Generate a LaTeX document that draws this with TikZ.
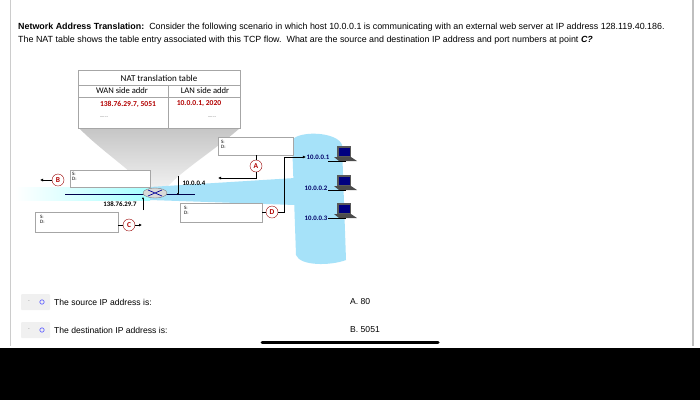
\documentclass[tikz,border=0pt]{standalone}
\usepackage{fontspec}
\setmainfont{Liberation Sans}
\newfontfamily\carl{Carlito}
\usetikzlibrary{arrows.meta,shapes.geometric}
\tikzset{
 x=1pt,y=-1pt,
 pbox/.style={draw=gray!70,line width=0.4pt,fill=white,inner sep=0pt},
 lbl/.style={circle,draw=red!60!black,fill=white,text=red!70!black,inner sep=0.6pt,minimum size=12pt,font=\carl\fontsize{7.5}{8}\selectfont\bfseries},
 conn/.style={line width=0.9pt,black},
 arr/.style={conn,-{Latex[length=3pt,width=3pt]}},
 sd/.style={font=\carl\fontsize{5}{5.5}\selectfont,align=left,inner sep=0pt,anchor=north west},
 ip/.style={font=\carl\fontsize{6.8}{7}\selectfont\bfseries,text=blue!40!black,inner sep=0.5pt},
 q/.style={font=\fontsize{8.6}{9}\selectfont,anchor=west,inner sep=0pt},
}
\begin{document}
\begin{tikzpicture}
\useasboundingbox (0,0) rectangle (700,400);
\fill[white] (0,0) rectangle (700,400);
\draw[gray!40,line width=1pt] (10,0) -- (10,346);
\draw[gray!50,line width=1.5pt] (693,0) -- (693,346);
\node[q,font=\fontsize{8.9}{9}\selectfont] (t1) at (18,27) {\textbf{Network Address Translation:}\ \ Consider the following scenario in which host 10.0.0.1 is communicating with an external web server at IP address 128.119.40.186.};
\node[q,font=\fontsize{8.9}{9}\selectfont] (t2) at (18,40) {The NAT table shows the table entry associated with this TCP flow.\ \ What are the source and destination IP address and port numbers at point \textbf{\textit{C?}}};
% funnel
\shade[top color=gray!45,bottom color=gray!10] (79,128) -- (240,128) .. controls (215,150) and (175,175) .. (165,190) -- (148,190) .. controls (138,175) and (100,150) .. (79,128) -- cycle;
% blue regions
\shade[left color=white,right color=cyan!35] (15,187) rectangle (150,200);
\fill[cyan!35] (150,187) -- (295,178) -- (295,205) -- (150,200) -- cycle;
\fill[cyan!35] (292,140) .. controls (300,130) and (338,132) .. (342,145) -- (346,260) .. controls (330,266) and (300,266) .. (296,255) -- (292,140) -- cycle;
% NAT table
\node[pbox,minimum width=162pt,minimum height=58pt,anchor=north west] (nat) at (78,70) {};
\draw[gray!70,line width=0.4pt] (78,85) -- (240,85) (78,97) -- (240,97) (168,85) -- (168,128);
\node[font=\carl\fontsize{9}{10}\selectfont] (nt) at (159,78) {NAT translation table};
\node[font=\carl\fontsize{8.6}{9}\selectfont] (h1) at (122,91) {WAN side addr};
\node[font=\carl\fontsize{8.6}{9}\selectfont] (h2) at (205,91) {LAN side addr};
\node[font=\carl\fontsize{7.6}{8}\selectfont\bfseries,text=red!70!black] (d1) at (128,104) {138.76.29.7, 5051};
\node[font=\carl\fontsize{7.6}{8}\selectfont\bfseries,text=red!70!black] (d2) at (199,104) {10.0.0.1, 2020};
\node[font=\fontsize{4}{4}\selectfont] (e1) at (104,117) {.......};
\node[font=\fontsize{4}{4}\selectfont] (e2) at (212,117) {.......};
% main line and router
\draw[line width=0.8pt,blue!30!black] (65,194) -- (195,194);
\node[ellipse,draw=gray,fill=gray!30,minimum width=24pt,minimum height=10pt,inner sep=0pt] (r) at (155,193) {};
\draw[blue!60!black,line width=0.7pt] (148,190) -- (162,196) (148,196) -- (162,190);
% box B
\node[pbox,minimum width=80pt,minimum height=17pt,anchor=north west] (bb) at (70,170) {};
\node[sd] at (72,172) {S:\\D:};
\node[lbl] (B) at (58,180) {B};
\coordinate (Bend) at (40,180);
\draw[arr] (B) -- (Bend);
% 138 label
\node[font=\carl\fontsize{6.8}{7}\selectfont\bfseries,anchor=east] (wan) at (140,204) {138.76.29.7};
\coordinate (w1) at (143,210); \coordinate (w2) at (143,197);
\draw[conn,-{Latex[length=2pt,width=2pt]}] (w1) -- (w2);
\node[font=\carl\fontsize{6.8}{7}\selectfont\bfseries,anchor=west] (lan) at (179,183) {10.0.0.4};
\coordinate (l1) at (178,176); \coordinate (l2) at (178,195);
\draw[conn,-{Latex[length=2pt,width=2pt]}] (l1) -- (l2);
% box C
\node[pbox,minimum width=83pt,minimum height=20pt,anchor=north west] (bc) at (35,212) {};
\node[sd] at (40,215) {S:\\D:};
\node[lbl] (C) at (129,225) {C};
\coordinate (Cend) at (142,225);
\draw[conn] (bc.east|-C) -- (C);
\draw[arr] (C) -- (Cend);
% box A
\node[pbox,minimum width=75pt,minimum height=18pt,anchor=north west] (ba) at (218,137) {};
\node[sd] at (221,140) {S:\\D:};
\node[lbl] (A) at (256,166) {A};
\coordinate (a1) at (256,178); \coordinate (a2) at (218,178);
\draw[conn] (ba.south-|A) -- (A);
\draw[arr] (A) -- (a1) -- (a2);
% hosts
\node[ip] (h1a) at (318,157) {10.0.0.1};
\node[ip] (h2a) at (316,188) {10.0.0.2};
\node[ip] (h3a) at (316,218) {10.0.0.3};
% box D
\node[pbox,minimum width=82pt,minimum height=19pt,anchor=north west] (bd) at (180,203) {};
\node[sd] at (184,206) {S:\\D:};
\node[lbl] (D) at (272,212) {D};
\coordinate (d1) at (284,212); \coordinate (d2) at (284,157);
\draw[conn] (bd.east|-D) -- (D);
\draw[arr] (D) -- (d1) -- (d2) -- (h1a.west);
\foreach \yy in {157,186,214}{
 \fill[gray!70!black] (337,\yy-11) rectangle (351,\yy);
 \fill[blue!50!black] (338.5,\yy-9.5) rectangle (349.5,\yy-1.5);
 \fill[gray!60!black] (334,\yy) -- (351,\yy) -- (357,\yy+4) -- (339,\yy+4) -- cycle;
 \draw[black,line width=0.5pt] (328,\yy+4) -- (346,\yy+4);
}
% questions
\foreach \yy/\tx/\ans in {302/The source IP address is:/A. 80,330/The destination IP address is:/B. 5051}{
 \fill[gray!12,rounded corners=1pt] (21,\yy-8) rectangle (50,\yy+8);
 \node[font=\fontsize{5}{5}\selectfont,text=gray] at (29,\yy) {-};
 \draw[blue!60,line width=0.7pt] (42,\yy) circle (2.2pt);
 \node[q] at (54,\yy) {\tx};
 \node[q] at (350,\yy) {\ans};
}
\draw[black,line width=3pt,line cap=round] (262,342) -- (438,342);
\fill[black] (0,348) rectangle (700,400);
\end{tikzpicture}
\end{document}
